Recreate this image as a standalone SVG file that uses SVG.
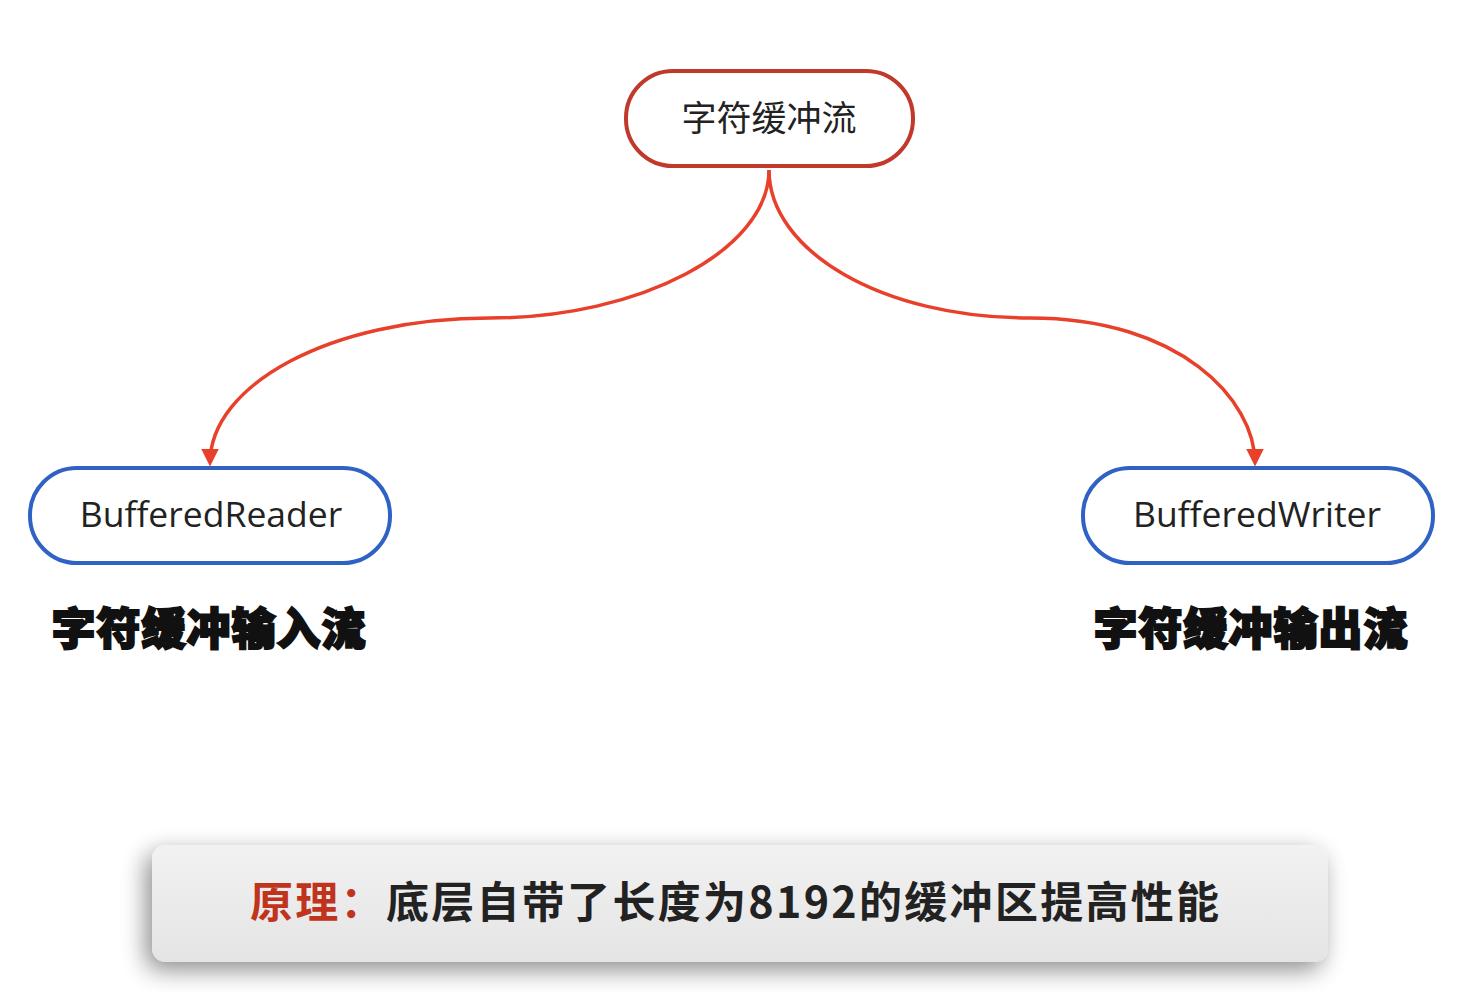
<svg xmlns="http://www.w3.org/2000/svg" width="1476" height="992" viewBox="0 0 1476 992">
<defs>
<style>
.cn{font-family:"Noto Sans CJK SC","Liberation Sans",sans-serif}
.en{font-family:"Open Sans","Noto Sans",sans-serif;font-size:35.5px;fill:#222}
.lbl{font-family:"Noto Sans CJK SC",sans-serif;font-weight:900;font-size:44px;fill:#111;stroke:#111;stroke-width:2;letter-spacing:1px}
.edge{fill:none;stroke:#e8402a;stroke-width:3.5}
</style>
<marker id="ah" viewBox="0 0 10 10" refX="8" refY="5" markerWidth="5" markerHeight="5" orient="auto"><path d="M0,0L10,5L0,10z" fill="#e8402a"/></marker>
<linearGradient id="bg" x1="0" y1="0" x2="0" y2="1"><stop offset="0" stop-color="#f2f2f2"/><stop offset="1" stop-color="#e4e4e4"/></linearGradient>
<filter id="sh" x="-10%" y="-40%" width="120%" height="180%"><feGaussianBlur in="SourceAlpha" stdDeviation="12"/><feOffset dx="-6" dy="8"/><feComponentTransfer><feFuncA type="linear" slope="0.45"/></feComponentTransfer><feMerge><feMergeNode/><feMergeNode in="SourceGraphic"/></feMerge></filter>
</defs>
<rect width="1476" height="992" fill="#fff"/>
<g id="connectors">
<path class="edge" marker-end="url(#ah)" d="M769,170 C769,250 640,318 490,318 C330,318 210,385 210,463"/>
<path class="edge" marker-end="url(#ah)" d="M769,170 C769,250 880,318 1030,318 C1180,318 1255,400 1255,463"/>
</g>
<g id="root">
<rect x="626" y="71" width="287" height="95" rx="47" fill="#fff" stroke="#c0392b" stroke-width="4"/>
<text class="cn" x="769" y="131" font-size="35" text-anchor="middle" fill="#222">字符缓冲流</text>
</g>
<g id="reader">
<rect x="30" y="468" width="360" height="95" rx="47" fill="#fff" stroke="#2f62c4" stroke-width="4"/>
<text class="en" x="211" y="527" text-anchor="middle">BufferedReader</text>
</g>
<g id="writer">
<rect x="1083" y="468" width="350" height="95" rx="47" fill="#fff" stroke="#2f62c4" stroke-width="4"/>
<text class="en" x="1257" y="527" text-anchor="middle">BufferedWriter</text>
</g>
<g id="labels">
<text class="lbl" x="209" y="645" text-anchor="middle">字符缓冲输入流</text>
<text class="lbl" x="1251" y="645" text-anchor="middle">字符缓冲输出流</text>
</g>
<g id="note">
<rect x="152" y="845" width="1176" height="117" rx="14" fill="url(#bg)" filter="url(#sh)"/>
<text class="cn" x="250" y="918" font-size="43" font-weight="700" fill="#222" letter-spacing="2.3"><tspan fill="#c0341d">原理：</tspan>底层自带了长度为8192的缓冲区提高性能</text>
</g>
</svg>
